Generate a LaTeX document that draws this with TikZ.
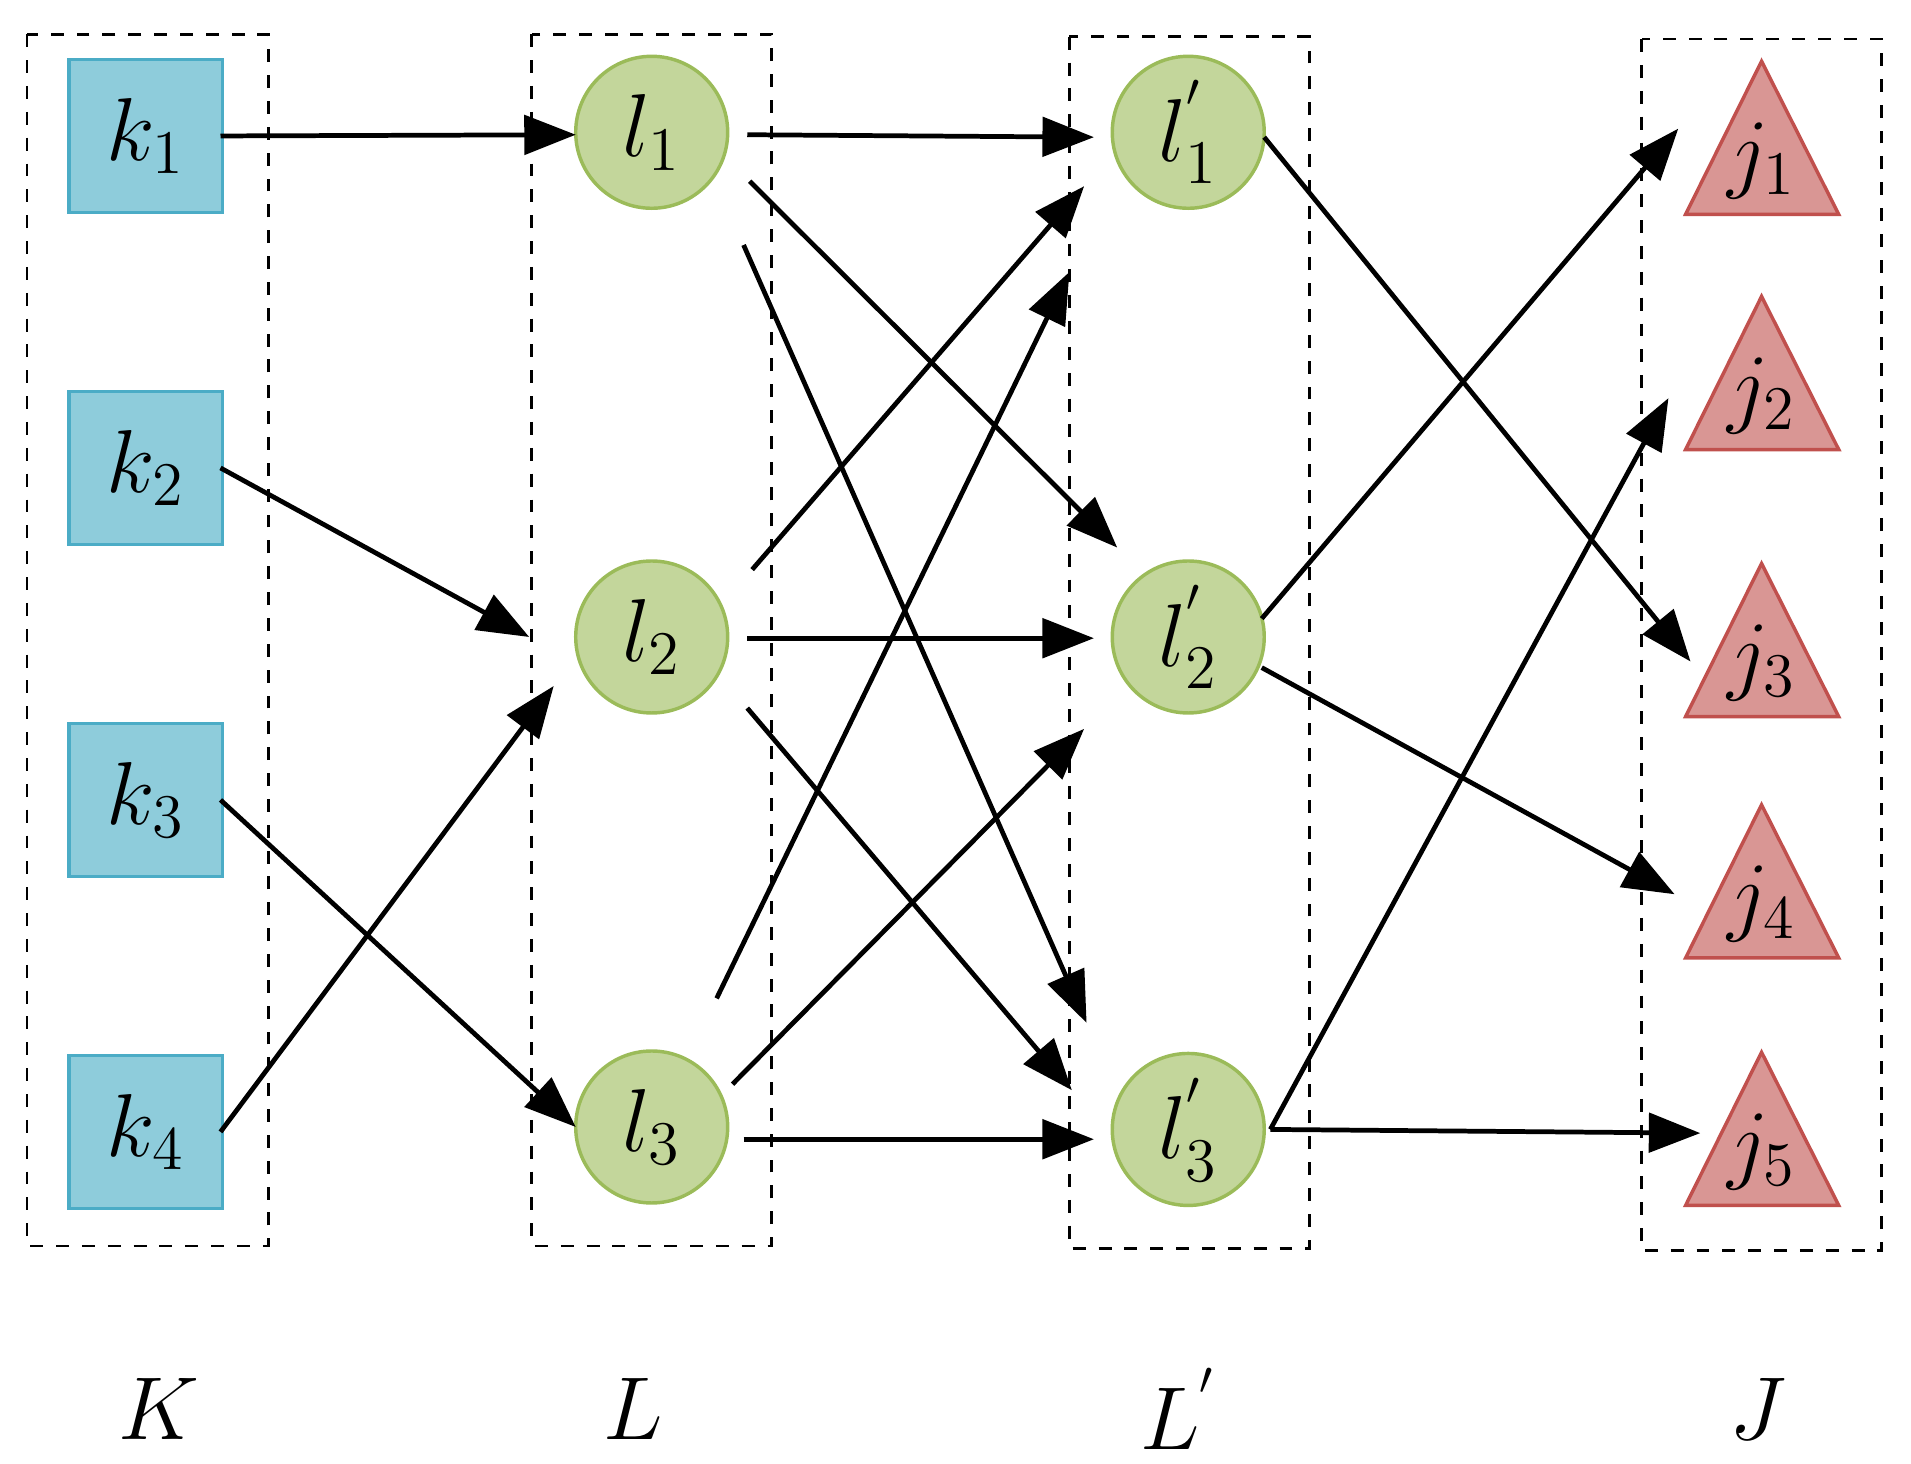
\documentclass[tikz,border=0pt]{standalone}
\usetikzlibrary{arrows.meta,shapes.geometric}
\begin{document}
\begin{tikzpicture}[x=0.01cm,y=-0.01cm,
  box/.style={draw,dashed,line width=0.6pt},
  sq/.style={draw={rgb,255:red,75;green,172;blue,198},fill={rgb,255:red,142;green,204;blue,219},minimum size=1.25cm,inner sep=0pt,line width=0.8pt},
  ci/.style={circle,draw={rgb,255:red,155;green,187;blue,89},fill={rgb,255:red,195;green,214;blue,155},minimum size=1.24cm,inner sep=0pt,line width=0.8pt},
  trf/.style={draw={rgb,255:red,192;green,80;blue,77},fill={rgb,255:red,217;green,150;blue,148},line width=0.8pt},
  lab/.style={font=\fontsize{22}{26}\selectfont},
  ar/.style={-{Triangle[length=0.42cm,width=0.32cm]},line width=1.1pt}]
\useasboundingbox (0,0) rectangle (1560,1195);
\draw[box] (22,28) rectangle (219,1017);
\draw[box] (434,28) rectangle (630,1017);
\draw[box] (873,30) rectangle (1069,1019);
\draw[box] (1340,32) rectangle (1536,1021);
\foreach \i/\y in {1/111,2/382,3/653,4/924}
  \node[sq,lab] (k\i) at (119,\y) {$k_{\i}$};
\foreach \i/\y in {1/108,2/520,3/920}
  \node[ci,lab] (l\i) at (532,\y) {$l_{\i}$};
\foreach \i/\y in {1/108,2/520,3/922}
  \node[ci,lab] (m\i) at (970,\y) {$l_{\i}^{'}$};
\foreach \i/\y in {1/113,2/305,3/523,4/720,5/922}{
  \path[trf] (1438,\y-63) -- (1501,\y+62) -- (1376,\y+62) -- cycle;
  \node[lab] (j\i) at (1438,\y+18) {$j_{\i}$};}
\node[lab] (K) at (130,1150) {$K$};
\node[lab] (L) at (517,1150) {$L$};
\node[lab] (Lp) at (962,1150) {$L^{'}$};
\node[lab] (J) at (1435,1150) {$J$};
\draw[ar] (180,111)--(470,110);
\draw[ar] (180,382)--(432,520);
\draw[ar] (180,653)--(470,920);
\draw[ar] (180,924)--(452,560);
\draw[ar] (610,110)--(893,112);
\draw[ar] (612,148)--(912,447);
\draw[ar] (607,200)--(887,835);
\draw[ar] (614,465)--(885,152);
\draw[ar] (610,521)--(893,521);
\draw[ar] (610,578)--(875,890);
\draw[ar] (585,815)--(873,222);
\draw[ar] (598,885)--(885,595);
\draw[ar] (607,930)--(893,930);
\draw[ar] (1032,112)--(1380,540);
\draw[ar] (1030,505)--(1370,105);
\draw[ar] (1030,545)--(1367,730);
\draw[ar] (1037,922)--(1362,325);
\draw[ar] (1037,922)--(1388,925);
\end{tikzpicture}
\end{document}
